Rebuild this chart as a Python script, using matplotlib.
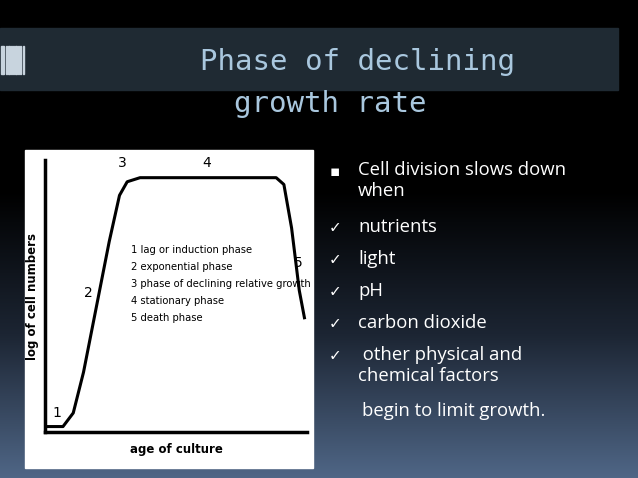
import numpy as np
import matplotlib
matplotlib.use("Agg")
import matplotlib.pyplot as plt
from matplotlib.colors import LinearSegmentedColormap

title_lines = ["Phase of declining", "growth rate"]
bullets = [("\u25aa", "Cell division slows down\nwhen"), ("\u2713", "nutrients"), ("\u2713", "light"),
           ("\u2713", "pH"), ("\u2713", "carbon dioxide"), ("\u2713", " other physical and\nchemical factors")]
closing = "begin to limit growth."
age = [0, 0.6, 1.0, 1.4, 1.9, 2.4, 2.8, 3.1, 3.6, 4.5, 8.9, 9.2, 9.5, 9.8, 10.0]
log_cells = [0.2, 0.2, 0.7, 2.2, 4.6, 7.0, 8.7, 9.2, 9.35, 9.35, 9.35, 9.1, 7.5, 5.2, 4.2]
phase_labels = ["1", "2", "3", "4", "5"]
phase_pos = [(0.35, 0.7), (1.6, 5.1), (2.9, 9.9), (6.2, 9.9), (9.75, 6.2)]
legend_lines = ["1 lag or induction phase", "2 exponential phase", "3 phase of declining relative growth",
                "4 stationary phase", "5 death phase"]

W, H = 638, 478
fig = plt.figure(figsize=(W/100, H/100), dpi=100)
bg = fig.add_axes([0, 0, 1, 1]); bg.set_axis_off()
cmap = LinearSegmentedColormap.from_list("g", [(0, "#000000"), (0.4, "#000000"), (0.7, "#1c2533"), (1, "#4f6686")])
grad = np.linspace(0, 1, 256).reshape(-1, 1)
bg.imshow(grad, cmap=cmap, aspect="auto", extent=[0, W, H, 0])
bg.set_xlim(0, W); bg.set_ylim(H, 0)
bg.add_patch(plt.Rectangle((0, 28), 618, 62, color="#1f2a33", zorder=2))
for i in range(10):
    bg.add_patch(plt.Rectangle((1 + i*2.4, 46), 1.0 if i % 3 else 1.6, 28, color="#c8d4de", zorder=3))
bg.text(358, 62, title_lines[0], color="#a9c7de", fontsize=21, family="DejaVu Sans Mono", ha="center", va="center", zorder=4)
bg.text(330, 104, title_lines[1], color="#a9c7de", fontsize=21, family="DejaVu Sans Mono", ha="center", va="center", zorder=4)
bg.add_patch(plt.Rectangle((25, 150), 288, 318, color="white", zorder=2))
ys = [171, 228, 260, 292, 324, 356]
for (sym, txt), y in zip(bullets, ys):
    bg.text(335, y, sym, color="white", fontsize=11, family=["DejaVu Sans"], va="center", ha="center", zorder=4)
    bg.text(358, y - 10, txt, color="white", fontsize=13.3, family="Open Sans", va="top", linespacing=1.2, zorder=4)
bg.text(362, 411, closing, color="white", fontsize=13.3, family="Open Sans", va="center", zorder=4)

ax = fig.add_axes([45/W, 1 - 432/H, 262/W, 272/H])
ax.set_facecolor("white")
ax.plot(age, log_cells, color="black", lw=2.2)
ax.set_xlim(-0.1, 10.1); ax.set_ylim(0, 10)
ax.set_xticks([]); ax.set_yticks([])
for s in ["top", "right"]:
    ax.spines[s].set_visible(False)
for s in ["left", "bottom"]:
    ax.spines[s].set_linewidth(2.5)
for lab, (x, y) in zip(phase_labels, phase_pos):
    ax.text(x, y, lab, fontsize=10, ha="center", va="center")
for i, t in enumerate(legend_lines):
    ax.text(3.25, 6.7 - i*0.63, t, fontsize=7.2, va="center")
ax.set_ylabel("log of cell numbers", fontsize=8.5, labelpad=4, fontweight="bold")
ax.set_xlabel("age of culture", fontsize=8.5, labelpad=8, fontweight="bold")
fig.savefig("out.png", dpi=100)
